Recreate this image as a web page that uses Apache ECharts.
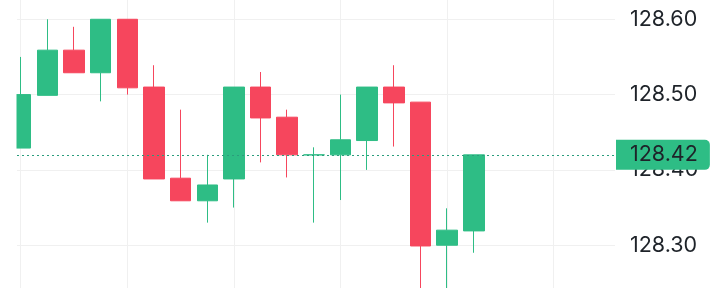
<!DOCTYPE html>
<html>
<head>
<meta charset="utf-8">
<script src="https://cdn.jsdelivr.net/npm/echarts@6/dist/echarts.min.js"></script>
<style>html,body{margin:0;padding:0;background:#fff}#c{width:720px;height:288px}</style>
</head>
<body>
<div id="c"></div>
<script>
const candleIndex = [0,1,2,3,4,5,6,7,8,9,10,11,12,13,14,15,16,17];
const opens  = [128.429,128.499,128.559,128.529,128.600,128.510,128.389,128.359,128.388,128.510,128.470,128.420,128.420,128.439,128.510,128.490,128.300,128.319];
const closes = [128.500,128.559,128.529,128.600,128.509,128.388,128.359,128.380,128.510,128.469,128.420,128.420,128.440,128.510,128.489,128.299,128.320,128.420];
const lows   = [128.429,128.499,128.529,128.491,128.500,128.388,128.359,128.330,128.350,128.410,128.390,128.330,128.360,128.400,128.431,128.220,128.230,128.290];
const highs  = [128.550,128.600,128.590,128.600,128.600,128.539,128.480,128.420,128.510,128.530,128.480,128.430,128.500,128.510,128.539,128.490,128.349,128.420];
const yTicks = [128.30,128.40,128.50,128.60];
const xGridTicks = [0,4,8,12,16,20];
const lastPrice = 128.42;

const green = '#2EBD85', red = '#F6465D';
const data = candleIndex.map((x,i)=>[x, opens[i], closes[i], lows[i], highs[i]]);
const chart = echarts.init(document.getElementById('c'), null, {renderer:'canvas'});
chart.setOption({
  animation:false,
  backgroundColor:'#ffffff',
  grid:{left:17,right:105,top:0,bottom:0,containLabel:false},
  xAxis:{type:'value',min:-0.139,max:22.3,
    axisLine:{show:false},axisLabel:{show:false},
    axisTick:{show:false,customValues:xGridTicks},
    splitLine:{show:true,lineStyle:{color:'#F0F0F0',width:1}}},
  yAxis:{type:'value',position:'right',min:128.2432,max:128.6256,scale:true,
    axisLine:{show:false},
    axisTick:{show:false,customValues:yTicks},
    axisLabel:{customValues:yTicks,margin:15,color:'#1E2329',fontSize:21.5,fontFamily:'Inter',
      formatter:v=>Number(v).toFixed(2)},
    splitLine:{show:true,lineStyle:{color:'#F0F0F0',width:1}}},
  graphic:[{type:'rect',left:0,top:0,z:100,shape:{width:16.5,height:288},style:{fill:'#ffffff'},silent:true}],
  series:[{
    type:'candlestick',
    barWidth:21,
    clip:true,
    encode:{x:0,y:[1,2,3,4]},
    data:data,
    itemStyle:{color:green,color0:red,borderColor:green,borderColor0:red,borderColorDoji:green,borderWidth:1},
    markLine:{
      symbol:'none',silent:true,animation:false,
      lineStyle:{color:'#2a9d7c',type:[2,3],width:1},
      label:{position:'end',distance:1,formatter:()=>lastPrice.toFixed(2),
        backgroundColor:green,color:'#1E2329',fontSize:21.5,fontFamily:'Inter',
        padding:[4,12,4,14],borderRadius:[0,5,5,0]},
      data:[{yAxis:lastPrice}]
    }
  }]
});
</script>
</body>
</html>
